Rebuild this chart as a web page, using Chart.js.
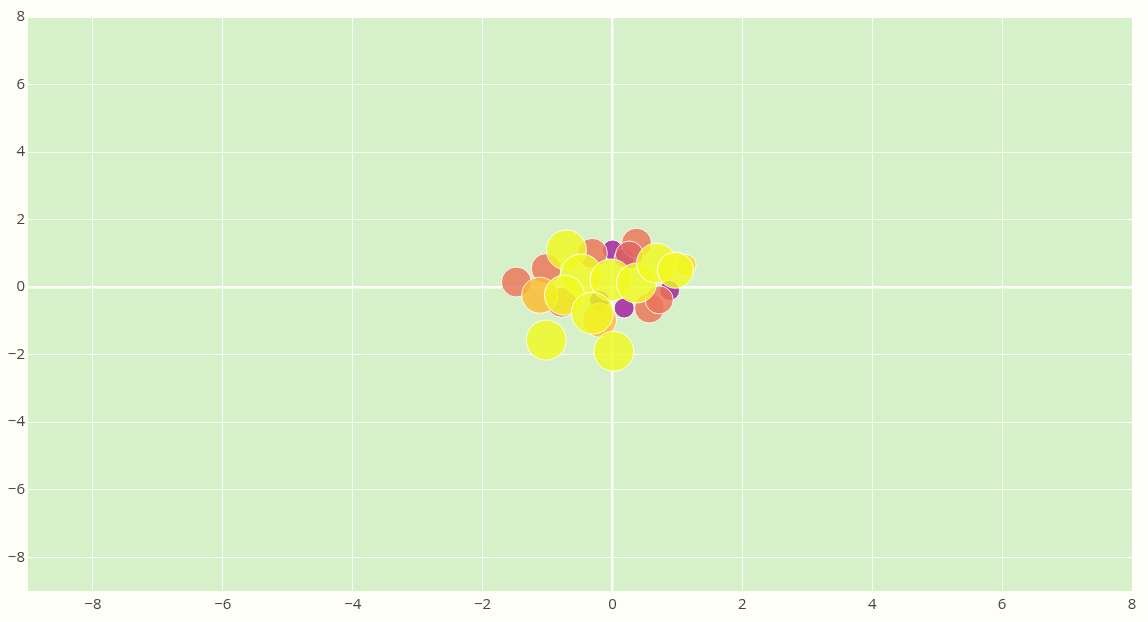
<!DOCTYPE html>
<html>
<head>
<meta charset="utf-8">
<script src="https://cdn.jsdelivr.net/npm/chart.js@4.4.0/dist/chart.umd.min.js"></script>
<style>
  html, body { margin: 0; padding: 0; background: #fffff8; }
  #wrap { width: 1148px; height: 622px; }
</style>
</head>
<body>
<div id="wrap"><canvas id="myChart"></canvas></div>
<script>
// bubble data, drawn low colour value first
const xValues = [0.0, 0.88, 0.18, -0.2, 0.18,
  -1.48, 0.37, -0.31, -1.02, 0.57, -0.78, 0.26, 0.72,
  -1.12, -0.2, 1.12,
  -0.71, -0.48, -0.02, 0.37, -0.74, -0.31, -1.02, 0.02, 0.68, 0.97];
const yValues = [1.10, -0.10, -0.62, -0.40, 0.86,
  0.15, 1.30, 1.00, 0.55, -0.62, -0.45, 0.95, -0.38,
  -0.24, -0.98, 0.65,
  1.10, 0.36, 0.21, 0.12, -0.24, -0.77, -1.57, -1.90, 0.71, 0.50];
const sizeValues = [10, 10, 10, 10, 10,
  15, 15, 15, 15, 15, 15, 14, 14,
  18, 17, 11,
  20, 21, 21, 20, 20, 21, 20, 20, 20, 18];
const colorValues = [0.35, 0.35, 0.35, 0.35, 0.35,
  0.65, 0.65, 0.65, 0.65, 0.65, 0.65, 0.6, 0.65,
  0.85, 0.85, 0.92,
  1, 1, 1, 1, 1, 1, 1, 1, 1, 1];
const tickValues = [-8, -6, -4, -2, 0, 2, 4, 6, 8];

const plasma = [
  [13, 8, 135], [65, 4, 157], [106, 0, 168], [143, 13, 164], [177, 42, 144],
  [204, 71, 120], [225, 100, 98], [242, 132, 75], [252, 166, 54], [252, 206, 37], [240, 249, 33]
];

function plasmaColor(v, alpha) {
  const pos = v * (plasma.length - 1);
  const i = Math.min(Math.floor(pos), plasma.length - 2);
  const t = pos - i;
  const c = plasma[i].map((a, k) => Math.round(a + (plasma[i + 1][k] - a) * t));
  return `rgba(${c[0]},${c[1]},${c[2]},${alpha})`;
}

const points = xValues.map((x, i) => ({ x: x, y: yValues[i], r: sizeValues[i] }));

const plotBackground = {
  id: "plotBackground",
  beforeDraw(chart) {
    const { ctx, chartArea } = chart;
    ctx.save();
    ctx.fillStyle = "rgb(214, 240, 202)";
    ctx.fillRect(chartArea.left, chartArea.top, chartArea.width, chartArea.height);
    ctx.restore();
  },
};

function setTicks(scale) {
  scale.ticks = tickValues.map((v) => ({ value: v }));
}

const axisFont = { family: "'Open Sans', sans-serif", size: 15 };

const ctx = document.querySelector("#myChart").getContext("2d");
new Chart(ctx, {
  type: "bubble",
  data: {
    datasets: [{
      data: points,
      backgroundColor: colorValues.map((v) => plasmaColor(v, 0.82)),
      borderColor: "rgba(255,255,255,0.9)",
      borderWidth: 1,
    }],
  },
  options: {
    responsive: true,
    maintainAspectRatio: false,
    animation: false,
    layout: { autoPadding: false, padding: { top: 17, right: 16, left: 0, bottom: 0 } },
    plugins: {
      legend: { display: false },
      tooltip: { enabled: false },
    },
    scales: {
      x: {
        type: "linear",
        min: -9,
        max: 8,
        afterBuildTicks: setTicks,
        afterFit: (scale) => {
          scale.height = 31;
          scale.paddingLeft = 0;
          scale.paddingRight = 0;
        },
        border: { display: false },
        grid: {
          color: "#ffffff",
          drawTicks: false,
          lineWidth: (c) => (c.tick && c.tick.value === 0 ? 2.5 : 1),
        },
        ticks: {
          color: "#444444",
          font: axisFont,
          padding: 5,
          maxRotation: 0,
          callback: (v) => String(v).replace("-", "\u2212"),
        },
      },
      y: {
        type: "linear",
        min: -9,
        max: 8,
        afterBuildTicks: setTicks,
        afterFit: (scale) => {
          scale.width = 28;
          scale.paddingTop = 0;
          scale.paddingBottom = 0;
        },
        border: { display: false },
        grid: {
          color: "#ffffff",
          drawTicks: false,
          lineWidth: (c) => (c.tick && c.tick.value === 0 ? 2.5 : 1),
        },
        ticks: {
          color: "#444444",
          font: axisFont,
          padding: 3,
          callback: (v) => String(v).replace("-", "\u2212"),
        },
      },
    },
  },
  plugins: [plotBackground],
});
</script>
</body>
</html>
